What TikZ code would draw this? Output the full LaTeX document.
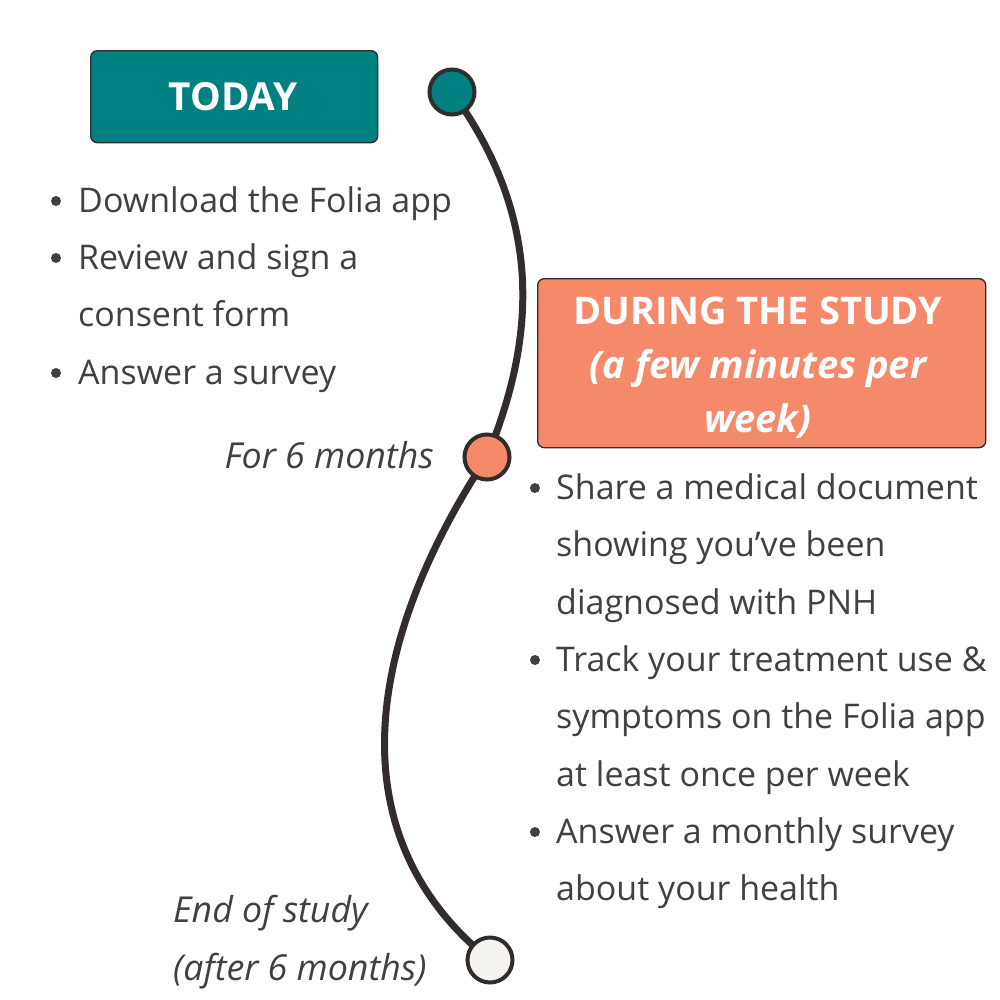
\documentclass[tikz,border=0pt]{standalone}
\usepackage{fontspec}
\setmainfont{Open Sans}
\definecolor{teal1}{RGB}{0,128,128}
\definecolor{coral}{RGB}{244,138,106}
\definecolor{txt}{RGB}{64,64,64}
\definecolor{line}{RGB}{50,45,43}
\definecolor{offw}{RGB}{245,243,240}
\begin{document}
\begin{tikzpicture}[x=0.3mm,y=-0.3mm,
  t/.style={anchor=base west,inner sep=0,text=txt,font=\fontsize{29}{33}\selectfont},
  it/.style={t,font=\fontsize{30.5}{34}\selectfont\itshape},
  bul/.style={circle,fill=txt,inner sep=0,minimum size=3mm},
  dot/.style={circle,draw=line,line width=1.2mm,minimum size=13.5mm,inner sep=0},
  box/.style={draw=line,line width=0.4mm,rounded corners=2mm,anchor=north west}]
\useasboundingbox (0,0) rectangle (1000,1000);
\node[box,fill=teal1,minimum width=86.1mm,minimum height=27.6mm] (today) at (90,50) {};
\node[text=white,font=\fontsize{33}{38}\selectfont\bfseries] (todayt) at (233,97) {TODAY};
\node[box,fill=coral,minimum width=134.4mm,minimum height=50.7mm] (during) at (537,278) {};
\node[text=white,align=center,font=\fontsize{32.5}{46}\selectfont\bfseries] (duringt) at (758,368) {DURING THE STUDY\\\itshape(a few minutes per\\\itshape week)};
\coordinate (p1) at (452,92);
\coordinate (p2) at (487,457);
\coordinate (p3) at (490,960);
\draw[line,line width=2.1mm] (p1) .. controls (545,220) and (535,340) .. (p2);
\draw[line,line width=2.1mm] (p2) .. controls (360,650) and (340,840) .. (p3);
\node[dot,fill=teal1] (c1) at (p1) {};
\node[dot,fill=coral] (c2) at (p2) {};
\node[dot,fill=offw] (c3) at (p3) {};
\node[bul] (b1) at (56,201) {};
\node[bul] (b2) at (56,258) {};
\node[bul] (b3) at (56,373) {};
\node[t] (l1) at (78,212) {Download the Folia app};
\node[t] (l2) at (78,269) {Review and sign a};
\node[t] (l3) at (78,326) {consent form};
\node[t] (l4) at (78,384) {Answer a survey};
\node[it,anchor=base east] (m1) at (434,468) {For 6 months};
\node[it] (e1) at (173,922) {End of study};
\node[it] (e2) at (173,980) {(after 6 months)};
\node[bul] (b4) at (535,488) {};
\node[bul] (b5) at (535,660) {};
\node[bul] (b6) at (535,832) {};
\node[t] (r1) at (556,499) {Share a medical document};
\node[t] (r2) at (556,556) {showing you’ve been};
\node[t] (r3) at (556,614) {diagnosed with PNH};
\node[t] (r4) at (556,671) {Track your treatment use \&};
\node[t] (r5) at (556,728) {symptoms on the Folia app};
\node[t] (r6) at (556,786) {at least once per week};
\node[t] (r7) at (556,843) {Answer a monthly survey};
\node[t] (r8) at (556,900) {about your health};
\end{tikzpicture}
\end{document}
